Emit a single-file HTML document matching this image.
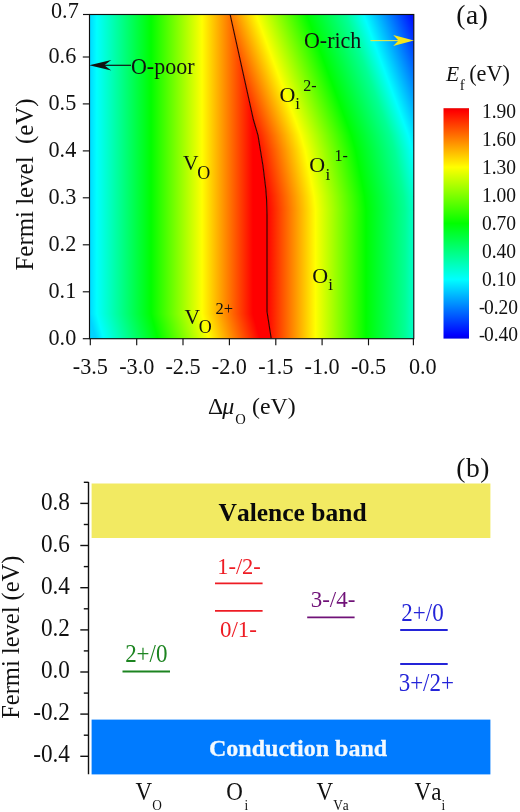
<!DOCTYPE html>
<html lang="en"><head><meta charset="utf-8"><title>Figure</title>
<style>html,body{margin:0;padding:0;background:#fff}svg{display:block}text{font-family:"Liberation Serif","DejaVu Serif",serif;font-kerning:none}</style></head>
<body>
<svg width="520" height="812" viewBox="0 0 520 812">
<rect width="520" height="812" fill="#ffffff"/>
<defs><linearGradient id="gL" gradientUnits="userSpaceOnUse" x1="89.00" y1="150.00" x2="280.00" y2="150.00"><stop offset="0.0000" stop-color="#00d4ff"/><stop offset="0.0408" stop-color="#00ffff"/><stop offset="0.3246" stop-color="#00ff00"/><stop offset="0.5916" stop-color="#ffff00"/><stop offset="0.8586" stop-color="#ff0000"/><stop offset="1.0000" stop-color="#ff0000"/></linearGradient><linearGradient id="gL2" gradientUnits="userSpaceOnUse" x1="43.08" y1="150.00" x2="220.19" y2="100.41"><stop offset="0.0000" stop-color="#00d4ff"/><stop offset="0.0408" stop-color="#00ffff"/><stop offset="0.3246" stop-color="#00ff00"/><stop offset="0.5916" stop-color="#ffff00"/><stop offset="0.8586" stop-color="#ff0000"/><stop offset="1.0000" stop-color="#ff0000"/></linearGradient><linearGradient id="gR0" gradientUnits="userSpaceOnUse" x1="255.00" y1="150.00" x2="490.00" y2="150.00"><stop offset="0.0000" stop-color="#ff0000"/><stop offset="0.0511" stop-color="#ff0000"/><stop offset="0.2574" stop-color="#ffff00"/><stop offset="0.4723" stop-color="#00ff00"/><stop offset="0.6383" stop-color="#00ff96"/><stop offset="0.7149" stop-color="#00ffff"/><stop offset="0.9319" stop-color="#0000ff"/><stop offset="1.0000" stop-color="#0000ff"/></linearGradient><clipPath id="b0"><rect x="0" y="210.0" width="520" height="135.0"/></clipPath><linearGradient id="gR1" gradientUnits="userSpaceOnUse" x1="249.00" y1="150.00" x2="481.67" y2="126.73"><stop offset="0.0000" stop-color="#ff0000"/><stop offset="0.0511" stop-color="#ff0000"/><stop offset="0.2574" stop-color="#ffff00"/><stop offset="0.4723" stop-color="#00ff00"/><stop offset="0.6383" stop-color="#00ff96"/><stop offset="0.7149" stop-color="#00ffff"/><stop offset="0.9319" stop-color="#0000ff"/><stop offset="1.0000" stop-color="#0000ff"/></linearGradient><clipPath id="b1"><rect x="0" y="196.0" width="520" height="15.0"/></clipPath><linearGradient id="gR2" gradientUnits="userSpaceOnUse" x1="244.49" y1="150.00" x2="470.63" y2="105.23"><stop offset="0.0000" stop-color="#ff0000"/><stop offset="0.0511" stop-color="#ff0000"/><stop offset="0.2574" stop-color="#ffff00"/><stop offset="0.4723" stop-color="#00ff00"/><stop offset="0.6383" stop-color="#00ff96"/><stop offset="0.7149" stop-color="#00ffff"/><stop offset="0.9319" stop-color="#0000ff"/><stop offset="1.0000" stop-color="#0000ff"/></linearGradient><clipPath id="b2"><rect x="0" y="150.0" width="520" height="47.0"/></clipPath><linearGradient id="gR3" gradientUnits="userSpaceOnUse" x1="244.49" y1="150.00" x2="461.84" y2="88.06"><stop offset="0.0000" stop-color="#ff0000"/><stop offset="0.0511" stop-color="#ff0000"/><stop offset="0.2574" stop-color="#ffff00"/><stop offset="0.4723" stop-color="#00ff00"/><stop offset="0.6383" stop-color="#00ff96"/><stop offset="0.7149" stop-color="#00ffff"/><stop offset="0.9319" stop-color="#0000ff"/><stop offset="1.0000" stop-color="#0000ff"/></linearGradient><clipPath id="b3"><rect x="0" y="135.0" width="520" height="16.0"/></clipPath><linearGradient id="gR4" gradientUnits="userSpaceOnUse" x1="245.77" y1="150.00" x2="452.47" y2="73.52"><stop offset="0.0000" stop-color="#ff0000"/><stop offset="0.0511" stop-color="#ff0000"/><stop offset="0.2574" stop-color="#ffff00"/><stop offset="0.4723" stop-color="#00ff00"/><stop offset="0.6383" stop-color="#00ff96"/><stop offset="0.7149" stop-color="#00ffff"/><stop offset="0.9319" stop-color="#0000ff"/><stop offset="1.0000" stop-color="#0000ff"/></linearGradient><clipPath id="b4"><rect x="0" y="0.0" width="520" height="136.0"/></clipPath><linearGradient id="gC" x1="0" y1="0" x2="0" y2="1"><stop offset="0" stop-color="#e80000"/><stop offset="0.012" stop-color="#ff0000"/><stop offset="0.256" stop-color="#ffff00"/><stop offset="0.5" stop-color="#00ff00"/><stop offset="0.743" stop-color="#00ffff"/><stop offset="0.985" stop-color="#0000ff"/><stop offset="1" stop-color="#0000e0"/></linearGradient><clipPath id="cp"><rect x="89.5" y="14.5" width="324.3" height="324.2"/></clipPath><clipPath id="bL"><rect x="0" y="314.0" width="520" height="40"/></clipPath></defs>
<g clip-path="url(#cp)">
<polygon points="87.5,12.5 230.0,14.0 253.5,120.0 258.0,135.4 263.0,166.0 265.8,189.0 266.6,200.0 267.0,215.0 267.0,311.5 271.2,338.3 87.5,340.7" fill="url(#gL)"/>
<g clip-path="url(#bL)"><polygon points="87.5,12.5 230.0,14.0 253.5,120.0 258.0,135.4 263.0,166.0 265.8,189.0 266.6,200.0 267.0,215.0 267.0,311.5 271.2,338.3 87.5,340.7" fill="url(#gL2)"/></g>
<g clip-path="url(#b0)"><polygon points="230.0,14.0 253.5,120.0 258.0,135.4 263.0,166.0 265.8,189.0 266.6,200.0 267.0,215.0 267.0,311.5 271.2,338.3 415.8,340.7 415.8,12.5" fill="url(#gR0)"/></g>
<g clip-path="url(#b1)"><polygon points="230.0,14.0 253.5,120.0 258.0,135.4 263.0,166.0 265.8,189.0 266.6,200.0 267.0,215.0 267.0,311.5 271.2,338.3 415.8,340.7 415.8,12.5" fill="url(#gR1)"/></g>
<g clip-path="url(#b2)"><polygon points="230.0,14.0 253.5,120.0 258.0,135.4 263.0,166.0 265.8,189.0 266.6,200.0 267.0,215.0 267.0,311.5 271.2,338.3 415.8,340.7 415.8,12.5" fill="url(#gR2)"/></g>
<g clip-path="url(#b3)"><polygon points="230.0,14.0 253.5,120.0 258.0,135.4 263.0,166.0 265.8,189.0 266.6,200.0 267.0,215.0 267.0,311.5 271.2,338.3 415.8,340.7 415.8,12.5" fill="url(#gR3)"/></g>
<g clip-path="url(#b4)"><polygon points="230.0,14.0 253.5,120.0 258.0,135.4 263.0,166.0 265.8,189.0 266.6,200.0 267.0,215.0 267.0,311.5 271.2,338.3 415.8,340.7 415.8,12.5" fill="url(#gR4)"/></g>
<polyline points="230.0,14.0 253.5,120.0 258.0,135.4 263.0,166.0 265.8,189.0 266.6,200.0 267.0,215.0 267.0,311.5 271.2,338.3" fill="none" stroke="#300800" stroke-width="1.15"/>
</g>
<rect x="89.5" y="14.5" width="324.3" height="324.2" fill="none" stroke="#101010" stroke-width="1.15"/>
<line x1="82.8" y1="338.7" x2="89.5" y2="338.7" stroke="#101010" stroke-width="1.15"/>
<line x1="82.8" y1="291.8" x2="89.5" y2="291.8" stroke="#101010" stroke-width="1.15"/>
<line x1="82.8" y1="244.8" x2="89.5" y2="244.8" stroke="#101010" stroke-width="1.15"/>
<line x1="82.8" y1="197.8" x2="89.5" y2="197.8" stroke="#101010" stroke-width="1.15"/>
<line x1="82.8" y1="150.9" x2="89.5" y2="150.9" stroke="#101010" stroke-width="1.15"/>
<line x1="82.8" y1="103.9" x2="89.5" y2="103.9" stroke="#101010" stroke-width="1.15"/>
<line x1="82.8" y1="57.0" x2="89.5" y2="57.0" stroke="#101010" stroke-width="1.15"/>
<line x1="83" y1="14.5" x2="89.5" y2="14.5" stroke="#101010" stroke-width="1.15"/>
<line x1="90.3" y1="338.7" x2="90.3" y2="345.3" stroke="#101010" stroke-width="1.15"/>
<line x1="136.7" y1="338.7" x2="136.7" y2="345.3" stroke="#101010" stroke-width="1.15"/>
<line x1="183.0" y1="338.7" x2="183.0" y2="345.3" stroke="#101010" stroke-width="1.15"/>
<line x1="229.4" y1="338.7" x2="229.4" y2="345.3" stroke="#101010" stroke-width="1.15"/>
<line x1="275.8" y1="338.7" x2="275.8" y2="345.3" stroke="#101010" stroke-width="1.15"/>
<line x1="322.1" y1="338.7" x2="322.1" y2="345.3" stroke="#101010" stroke-width="1.15"/>
<line x1="368.5" y1="338.7" x2="368.5" y2="345.3" stroke="#101010" stroke-width="1.15"/>
<line x1="413.4" y1="338.7" x2="413.4" y2="345.3" stroke="#101010" stroke-width="1.15"/>
<text x="0.0" y="0.0" font-size="22.2" text-anchor="start" fill="#111"  transform="translate(48.5,344.9) scale(1,1.060)">0.0</text>
<text x="0.0" y="0.0" font-size="22.2" text-anchor="start" fill="#111"  transform="translate(48.5,298.3) scale(1,1.060)">0.1</text>
<text x="0.0" y="0.0" font-size="22.2" text-anchor="start" fill="#111"  transform="translate(48.5,251.0) scale(1,1.060)">0.2</text>
<text x="0.0" y="0.0" font-size="22.2" text-anchor="start" fill="#111"  transform="translate(48.5,204.2) scale(1,1.060)">0.3</text>
<text x="0.0" y="0.0" font-size="22.2" text-anchor="start" fill="#111"  transform="translate(48.5,157.3) scale(1,1.060)">0.4</text>
<text x="0.0" y="0.0" font-size="22.2" text-anchor="start" fill="#111"  transform="translate(48.5,109.9) scale(1,1.060)">0.5</text>
<text x="0.0" y="0.0" font-size="22.2" text-anchor="start" fill="#111"  transform="translate(48.5,63.3) scale(1,1.060)">0.6</text>
<text x="0.0" y="0.0" font-size="22.2" text-anchor="start" fill="#111"  transform="translate(51.0,17.6) scale(1,1.060)">0.7</text>
<text x="0.0" y="0.0" font-size="22.2" text-anchor="middle" fill="#111"  transform="translate(90.3,374.3) scale(1,1.050)">-3.5</text>
<text x="0.0" y="0.0" font-size="22.2" text-anchor="middle" fill="#111"  transform="translate(136.7,374.3) scale(1,1.050)">-3.0</text>
<text x="0.0" y="0.0" font-size="22.2" text-anchor="middle" fill="#111"  transform="translate(183.0,374.3) scale(1,1.050)">-2.5</text>
<text x="0.0" y="0.0" font-size="22.2" text-anchor="middle" fill="#111"  transform="translate(229.4,374.3) scale(1,1.050)">-2.0</text>
<text x="0.0" y="0.0" font-size="22.2" text-anchor="middle" fill="#111"  transform="translate(275.8,374.3) scale(1,1.050)">-1.5</text>
<text x="0.0" y="0.0" font-size="22.2" text-anchor="middle" fill="#111"  transform="translate(322.1,374.3) scale(1,1.050)">-1.0</text>
<text x="0.0" y="0.0" font-size="22.2" text-anchor="middle" fill="#111"  transform="translate(368.5,374.3) scale(1,1.050)">-0.5</text>
<text x="0.0" y="0.0" font-size="22.2" text-anchor="middle" fill="#111"  transform="translate(422.8,374.3) scale(1,1.050)">0.0</text>
<text x="0.0" y="0.0" font-size="24.9" text-anchor="start" fill="#111" transform="translate(33,270.5) rotate(-90)">Fermi level  (eV)</text>
<text x="0.0" y="0.0" font-size="24.5" text-anchor="start" fill="#111" transform="translate(19,718.8) rotate(-90)">Fermi level (eV)</text>
<text fill="#111"><tspan x="208.0" y="413.60" font-size="23.5" >Δ</tspan><tspan x="222.3" y="413.60" font-size="24.0" font-style="italic">μ</tspan><tspan x="235.2" y="424.20" font-size="14.6" >O</tspan><tspan x="246.1" y="413.60" font-size="23.8" > (eV)</tspan></text>
<text x="456.2" y="23.8" font-size="27.5" text-anchor="start" fill="#111" letter-spacing="0.6">(a)</text>
<text x="456.2" y="476.6" font-size="27.5" text-anchor="start" fill="#111" letter-spacing="0.6">(b)</text>
<text fill="#111"><tspan x="446.0" y="81.10" font-size="21.5" font-style="italic">E</tspan><tspan x="459.8" y="90.10" font-size="15.0" >f</tspan><tspan x="463.6" y="81.40" font-size="22.3" > (eV)</tspan></text>
<rect x="443.5" y="108.2" width="25.5" height="230.4" fill="url(#gC)"/>
<text x="0.0" y="0.0" font-size="19.5" text-anchor="start" fill="#111"  transform="translate(482.0,118.3) scale(1,1.060)">1.90</text>
<text x="0.0" y="0.0" font-size="19.5" text-anchor="start" fill="#111"  transform="translate(482.0,146.2) scale(1,1.060)">1.60</text>
<text x="0.0" y="0.0" font-size="19.5" text-anchor="start" fill="#111"  transform="translate(482.0,174.1) scale(1,1.060)">1.30</text>
<text x="0.0" y="0.0" font-size="19.5" text-anchor="start" fill="#111"  transform="translate(482.0,202.0) scale(1,1.060)">1.00</text>
<text x="0.0" y="0.0" font-size="19.5" text-anchor="start" fill="#111"  transform="translate(482.0,229.9) scale(1,1.060)">0.70</text>
<text x="0.0" y="0.0" font-size="19.5" text-anchor="start" fill="#111"  transform="translate(482.0,257.8) scale(1,1.060)">0.40</text>
<text x="0.0" y="0.0" font-size="19.5" text-anchor="start" fill="#111"  transform="translate(482.0,285.7) scale(1,1.060)">0.10</text>
<text fill="#111" transform="scale(1,1.060)"><tspan x="479.0" y="295.57" font-size="18.0" >-</tspan><tspan x="483.9" y="295.85" font-size="19.5" >0.20</tspan></text>
<text fill="#111" transform="scale(1,1.060)"><tspan x="479.0" y="321.89" font-size="18.0" >-</tspan><tspan x="483.9" y="322.17" font-size="19.5" >0.40</tspan></text>
<text x="0.0" y="0.0" font-size="22.0" text-anchor="start" fill="#111"  transform="translate(131.0,73.5) scale(1,1.080)">O-poor</text>
<text x="0.0" y="0.0" font-size="22.0" text-anchor="start" fill="#111"  transform="translate(304.0,47.9) scale(1,1.080)">O-rich</text>
<line x1="103" y1="65.3" x2="131" y2="65.3" stroke="#111" stroke-width="1.2"/>
<path d="M89.3,65.3 L111.3,60.1 L104.3,65.3 L111.3,70.5 Z" fill="#111"/>
<line x1="370.5" y1="40.6" x2="399" y2="40.6" stroke="#e6e64a" stroke-width="1.1"/>
<path d="M413.9,40.6 L393.2,35.1 L398.5,40.6 L393.2,46.1 Z" fill="#f6e61e"/>
<text fill="#111"><tspan x="183.0" y="170.30" font-size="21.5" >V</tspan><tspan x="197.2" y="178.60" font-size="18.0" >O</tspan></text>
<text fill="#111"><tspan x="279.5" y="102.00" font-size="22.0" >O</tspan><tspan x="295.2" y="109.20" font-size="17.0" >i</tspan><tspan x="303.3" y="90.80" font-size="16.0" >2-</tspan></text>
<text fill="#111"><tspan x="309.2" y="172.30" font-size="22.0" >O</tspan><tspan x="325.4" y="179.70" font-size="17.0" >i</tspan><tspan x="334.5" y="161.20" font-size="16.0" >1-</tspan></text>
<text fill="#111"><tspan x="312.3" y="283.10" font-size="22.0" >O</tspan><tspan x="328.3" y="290.30" font-size="17.0" >i</tspan></text>
<text fill="#111"><tspan x="184.4" y="323.80" font-size="21.5" >V</tspan><tspan x="198.7" y="332.60" font-size="18.0" >O</tspan><tspan x="215.6" y="313.80" font-size="16.5" >2+</tspan></text>
<rect x="91.6" y="483.5" width="398.8" height="54.5" fill="#f2ea62"/>
<rect x="91.6" y="719.6" width="398.8" height="54.8" fill="#007bff"/>
<line x1="88.5" y1="482.0" x2="88.5" y2="774.2" stroke="#101010" stroke-width="1.4"/>
<line x1="80.3" y1="756.3" x2="88.5" y2="756.3" stroke="#101010" stroke-width="1.4"/>
<line x1="83.8" y1="735.2" x2="88.5" y2="735.2" stroke="#101010" stroke-width="1.4"/>
<line x1="80.3" y1="714.1" x2="88.5" y2="714.1" stroke="#101010" stroke-width="1.4"/>
<line x1="83.8" y1="693.1" x2="88.5" y2="693.1" stroke="#101010" stroke-width="1.4"/>
<line x1="80.3" y1="672.0" x2="88.5" y2="672.0" stroke="#101010" stroke-width="1.4"/>
<line x1="83.8" y1="650.9" x2="88.5" y2="650.9" stroke="#101010" stroke-width="1.4"/>
<line x1="80.3" y1="629.9" x2="88.5" y2="629.9" stroke="#101010" stroke-width="1.4"/>
<line x1="83.8" y1="608.8" x2="88.5" y2="608.8" stroke="#101010" stroke-width="1.4"/>
<line x1="80.3" y1="587.7" x2="88.5" y2="587.7" stroke="#101010" stroke-width="1.4"/>
<line x1="83.8" y1="566.6" x2="88.5" y2="566.6" stroke="#101010" stroke-width="1.4"/>
<line x1="80.3" y1="545.5" x2="88.5" y2="545.5" stroke="#101010" stroke-width="1.4"/>
<line x1="83.8" y1="524.5" x2="88.5" y2="524.5" stroke="#101010" stroke-width="1.4"/>
<line x1="80.3" y1="503.4" x2="88.5" y2="503.4" stroke="#101010" stroke-width="1.4"/>
<line x1="83.8" y1="482.3" x2="88.5" y2="482.3" stroke="#101010" stroke-width="1.4"/>
<text x="0.0" y="0.0" font-size="23.2" text-anchor="end" fill="#111"  transform="translate(69.9,509.5) scale(1,1.050)">0.8</text>
<text x="0.0" y="0.0" font-size="23.2" text-anchor="end" fill="#111"  transform="translate(69.9,551.6) scale(1,1.050)">0.6</text>
<text x="0.0" y="0.0" font-size="23.2" text-anchor="end" fill="#111"  transform="translate(69.9,593.8) scale(1,1.050)">0.4</text>
<text x="0.0" y="0.0" font-size="23.2" text-anchor="end" fill="#111"  transform="translate(69.9,636.0) scale(1,1.050)">0.2</text>
<text x="0.0" y="0.0" font-size="23.2" text-anchor="end" fill="#111"  transform="translate(69.9,678.1) scale(1,1.050)">0.0</text>
<text x="0.0" y="0.0" font-size="23.2" text-anchor="end" fill="#111"  transform="translate(69.9,720.2) scale(1,1.050)">-0.2</text>
<text x="0.0" y="0.0" font-size="23.2" text-anchor="end" fill="#111"  transform="translate(69.9,762.4) scale(1,1.050)">-0.4</text>
<text x="218.5" y="521.0" font-size="25.5" text-anchor="start" fill="#0a0a0a" font-weight="bold">Valence band</text>
<text x="209.0" y="755.5" font-size="24.0" text-anchor="start" fill="#f2f9ff" font-weight="bold" stroke="#f2f9ff" stroke-width="0.3">Conduction band</text>
<line x1="122.5" y1="671.5" x2="170.0" y2="671.5" stroke="#1c8420" stroke-width="1.8"/>
<text x="0.0" y="0.0" font-size="23.0" text-anchor="middle" fill="#1c8420"  transform="translate(146.3,662.4) scale(1,1.080)">2+/0</text>
<line x1="215.0" y1="583.3" x2="262.6" y2="583.3" stroke="#ee1c24" stroke-width="1.8"/>
<line x1="215.0" y1="610.8" x2="262.6" y2="610.8" stroke="#ee1c24" stroke-width="1.8"/>
<text x="0.0" y="0.0" font-size="22.5" text-anchor="middle" fill="#ee1c24"  transform="translate(239.0,573.8) scale(1,1.030)">1-/2-</text>
<text x="0.0" y="0.0" font-size="23.0" text-anchor="middle" fill="#ee1c24"  transform="translate(238.5,637.4) scale(1,1.030)">0/1-</text>
<line x1="307.2" y1="617.3" x2="354.6" y2="617.3" stroke="#701278" stroke-width="1.8"/>
<text x="0.0" y="0.0" font-size="23.0" text-anchor="middle" fill="#701278"  transform="translate(333.0,607.3) scale(1,1.030)">3-/4-</text>
<line x1="400.2" y1="630.0" x2="447.7" y2="630.0" stroke="#2424d8" stroke-width="1.8"/>
<line x1="400.2" y1="664.0" x2="447.7" y2="664.0" stroke="#2424d8" stroke-width="1.8"/>
<text x="0.0" y="0.0" font-size="23.0" text-anchor="middle" fill="#2424d8"  transform="translate(422.5,621.0) scale(1,1.060)">2+/0</text>
<text x="0.0" y="0.0" font-size="23.0" text-anchor="middle" fill="#2424d8"  transform="translate(426.3,690.6) scale(1,1.080)">3+/2+</text>
<text fill="#111" transform="scale(1,1.050)"><tspan x="135.4" y="761.90" font-size="23.0" >V</tspan><tspan x="152.2" y="771.14" font-size="13.3" >O</tspan></text>
<text fill="#111" transform="scale(1,1.050)"><tspan x="226.3" y="762.10" font-size="23.0" >O</tspan><tspan x="244.4" y="771.24" font-size="13.3" >i</tspan></text>
<text fill="#111" transform="scale(1,1.050)"><tspan x="316.4" y="761.90" font-size="23.0" >V</tspan><tspan x="333.2" y="771.24" font-size="13.3" >Va</tspan></text>
<text fill="#111" transform="scale(1,1.050)"><tspan x="414.6" y="762.10" font-size="23.0" >Va</tspan><tspan x="441.5" y="771.62" font-size="13.3" >i</tspan></text>
</svg>
</body></html>
